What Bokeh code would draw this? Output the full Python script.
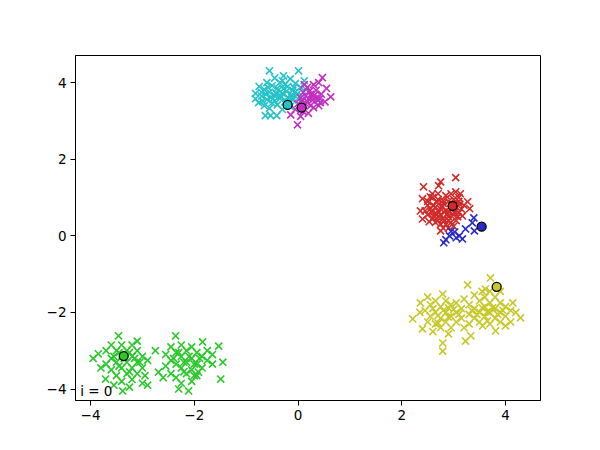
from bokeh.plotting import figure
from bokeh.models import FixedTicker, Label, Range1d
from bokeh.embed import file_html
from bokeh.resources import INLINE

# ---- data ----
cyan_x = [-0.55, 0.01, -0.28, -0.45, -0.15, 0.12, -0.6, -0.35, -0.05, -0.75, -0.5, -0.2, 0.05, -0.65, -0.4, -0.1,
          0.15, -0.82, -0.55, -0.3, -0.02, -0.7, -0.45, -0.2, 0.08, -0.82, -0.6, -0.35, -0.1, -0.76, -0.5, -0.25,
          -0.65, -0.4, -0.15, -0.63, -0.53, -0.41, -0.7, -0.38, -0.25, -0.58, -0.12, -0.48, -0.3, 0.0, -0.55, -0.3,
          -0.62, -0.42, -0.22, -0.05, -0.52, -0.32, -0.12, -0.68, -0.28, -0.08, -0.45, -0.18]
cyan_y = [4.31, 4.31, 4.18, 4.12, 4.10, 4.05, 4.00, 4.00, 3.98, 3.90, 3.92, 3.90, 3.88, 3.82, 3.85, 3.80,
          3.82, 3.72, 3.75, 3.72, 3.70, 3.65, 3.66, 3.62, 3.65, 3.58, 3.56, 3.58, 3.55, 3.48, 3.47, 3.50,
          3.40, 3.42, 3.38, 3.14, 3.14, 3.14, 3.75, 3.80, 3.95, 3.88, 3.68, 3.58, 4.05, 3.58, 3.33, 3.30,
          3.70, 3.72, 3.78, 3.76, 3.62, 3.64, 3.62, 3.52, 3.84, 3.88, 3.52, 3.48]

mag_x = [0.47, 0.40, 0.63, -0.01, 0.24, 0.30, 0.18, 0.35, 0.10, 0.25, 0.45, 0.05, 0.20, 0.38, 0.52, 0.00,
         0.15, 0.30, 0.43, -0.05, 0.10, 0.20, -0.14, 0.05, 0.35, 0.12, 0.28, 0.40, 0.15, 0.55,
         0.22, 0.32, 0.08, 0.18, 0.28, 0.42]
mag_y = [4.13, 4.00, 3.63, 2.90, 3.40, 3.95, 3.88, 3.80, 3.75, 3.70, 3.70, 3.60, 3.58, 3.55, 3.50, 3.45,
         3.45, 3.35, 3.48, 3.30, 3.25, 3.20, 3.16, 3.12, 3.60, 3.95, 3.55, 3.40, 3.65, 3.85,
         3.78, 3.68, 3.52, 3.50, 3.62, 3.58]

red_x = [3.04, 2.75, 2.71, 2.42, 2.59, 2.40, 2.36, 2.40, 2.53, 2.75, 3.27, 3.31, 3.17, 3.04, 3.13,
         2.50, 2.60, 2.70, 2.80, 2.90, 3.00, 3.10, 2.55, 2.65, 2.75, 2.85, 2.95, 3.05, 3.15, 2.50,
         2.60, 2.70, 2.80, 2.90, 3.00, 3.10, 2.65, 2.75, 2.85, 2.95, 3.05, 2.80, 2.90, 2.60, 2.85,
         2.95, 3.10, 2.70, 2.50, 3.20, 2.45, 2.75, 2.65, 3.00,
         2.58, 2.68, 2.78, 2.88, 2.98, 3.08, 2.62, 2.72, 2.82, 2.92, 3.02, 2.70, 2.80, 2.90, 2.55, 3.12]
red_y = [1.52, 1.41, 1.31, 1.28, 1.10, 0.97, 0.65, 0.44, 0.37, 0.13, 0.89, 0.71, 0.52, 1.15, 1.10,
         0.90, 0.80, 0.95, 0.85, 0.90, 0.95, 0.90, 0.70, 0.60, 0.70, 0.65, 0.70, 0.75, 0.70, 0.55,
         0.45, 0.50, 0.45, 0.50, 0.55, 0.60, 0.35, 0.30, 0.30, 0.35, 0.40, 0.20, 0.20, 1.00, 1.05,
         1.10, 1.00, 1.10, 0.80, 0.80, 0.65, 0.55, 0.75, 0.25,
         0.62, 0.88, 0.78, 0.58, 0.82, 0.50, 0.50, 0.62, 0.40, 0.62, 0.62, 0.40, 0.92, 0.40, 1.02, 0.82]

blue_x = [2.81, 3.02, 3.17, 3.36, 3.40, 3.23, 3.11, 2.92, 2.85, 3.05, 3.39, 2.95]
blue_y = [-0.18, 0.10, -0.08, 0.34, 0.13, 0.18, 0.00, 0.00, -0.10, -0.05, 0.47, 0.12]

yel_x = [3.71, 3.27, 3.61, 2.79, 2.36, 2.21, 2.40, 2.79, 2.79, 3.23, 3.33, 4.29, 4.14, 4.00, 3.81, 3.56,
         2.90, 4.20, 3.90, 2.50,
         2.45, 2.55, 2.55, 2.65, 2.65, 2.65, 2.75, 2.75, 2.75, 2.85, 2.85, 2.85, 2.95, 2.95, 2.95, 3.05,
         3.05, 3.05, 3.15, 3.15, 2.50, 2.60, 2.35, 3.20,
         3.30, 3.30, 3.30, 3.40, 3.40, 3.40, 3.50, 3.50, 3.50, 3.60, 3.60, 3.60, 3.70, 3.70, 3.70, 3.70,
         3.80, 3.80, 3.80, 3.90, 3.90, 3.90, 4.00, 4.00, 4.10, 3.55, 3.85, 4.10, 3.20,
         2.60, 2.70, 2.80, 2.90, 3.00, 3.10, 3.35, 3.45, 3.55, 3.65, 3.75, 3.85, 3.95, 2.70, 2.90, 3.65]
yel_y = [-1.10, -1.28, -1.39, -1.52, -1.75, -2.17, -2.43, -3.01, -2.80, -2.75, -2.61, -2.14, -1.75, -2.35, -2.48, -2.35,
         -2.56, -2.00, -1.45, -1.60,
         -1.95, -1.80, -2.10, -1.70, -2.00, -2.30, -1.85, -2.15, -2.40, -1.70, -2.00, -2.25, -1.80, -2.10, -2.40, -1.75,
         -2.00, -2.25, -1.90, -2.15, -2.25, -2.50, -2.00, -1.65,
         -1.80, -2.05, -2.30, -1.55, -1.90, -2.15, -1.70, -2.00, -2.25, -1.60, -1.85, -2.10, -1.45, -1.75, -2.00, -2.30,
         -1.60, -1.90, -2.15, -1.75, -2.00, -2.25, -1.85, -2.10, -1.95, -1.45, -1.35, -2.25, -2.40,
         -1.90, -2.08, -1.95, -2.12, -1.92, -2.05, -1.95, -2.05, -1.88, -1.98, -1.88, -2.05, -1.95, -2.28, -1.88, -2.22]

grn_x = [-3.46, -3.85, -3.71, -3.38, -2.36, -1.84, -1.53, -1.49, -1.92, -2.11, -2.69, -3.95, -2.90, -1.45, -3.10, -2.75,
         -3.70, -3.70, -3.60, -3.60, -3.60, -3.50, -3.50, -3.50, -3.40, -3.40, -3.40, -3.40, -3.30, -3.30, -3.30,
         -3.20, -3.20, -3.20, -3.20, -3.10, -3.10, -3.10, -3.00, -3.00, -3.00, -2.90, -3.80, -3.55, -3.25, -2.95,
         -2.55, -2.55, -2.45, -2.45, -2.45, -2.35, -2.35, -2.35, -2.25, -2.25, -2.25, -2.25, -2.15, -2.15, -2.15,
         -2.05, -2.05, -2.05, -2.05, -1.95, -1.95, -1.95, -1.85, -1.85, -1.75, -1.75, -1.65, -2.60, -2.30, -1.65,
         -3.55, -3.45, -3.35, -3.25, -3.15, -3.05, -3.45, -3.25, -2.40, -2.30, -2.20, -2.10, -2.00, -1.90, -2.20, -2.00]
grn_y = [-2.61, -3.08, -3.74, -4.05, -2.61, -2.77, -2.88, -3.74, -3.56, -4.05, -3.56, -3.20, -3.90, -3.30, -2.75, -3.00,
         -3.00, -3.35, -2.85, -3.20, -3.50, -3.00, -3.30, -3.65, -2.85, -3.15, -3.45, -3.80, -3.00, -3.30, -3.60,
         -2.85, -3.15, -3.45, -3.75, -3.00, -3.30, -3.60, -3.15, -3.45, -3.85, -3.25, -3.45, -3.90, -3.95, -3.65,
         -3.10, -3.40, -2.90, -3.25, -3.60, -3.05, -3.35, -3.70, -2.85, -3.15, -3.45, -3.85, -3.00, -3.30, -3.60,
         -2.90, -3.20, -3.50, -3.80, -3.05, -3.35, -3.65, -3.15, -3.45, -3.25, -3.00, -3.35, -3.70, -4.00, -3.10,
         -3.15, -3.05, -3.20, -3.05, -3.20, -3.30, -3.40, -3.55, -3.20, -3.05, -3.30, -3.15, -3.35, -3.20, -3.55, -3.65]

cent_x = [-3.36, 3.83, -0.20, 0.07, 2.98, 3.54]
cent_y = [-3.14, -1.33, 3.42, 3.35, 0.78, 0.24]

ticks = [-4, -2, 0, 2, 4]
tick_labels = {-4: "\u22124", -2: "\u22122", 0: "0", 2: "2", 4: "4"}

C_GRN = "#2ac82a"
C_YEL = "#c8c82a"
C_CYA = "#22c2c8"
C_MAG = "#c030c0"
C_RED = "#d02a2a"
C_BLU = "#2a2ac8"
cent_colors = [C_GRN, C_YEL, C_CYA, C_MAG, C_RED, C_BLU]

p = figure(width=592, height=442, output_backend="svg", toolbar_location=None,
           x_range=Range1d(-4.29, 4.675), y_range=Range1d(-4.30, 4.71),
           min_border_left=75, min_border_right=52, min_border_top=55, min_border_bottom=42)
p.background_fill_color = "white"
p.border_fill_color = "white"
p.outline_line_color = "black"
p.outline_line_width = 1
p.xgrid.visible = False
p.ygrid.visible = False

for ax in (p.xaxis[0], p.yaxis[0]):
    ax.ticker = FixedTicker(ticks=ticks)
    ax.major_label_overrides = tick_labels
    ax.major_label_text_font = "DejaVu Sans"
    ax.major_label_text_font_size = "13.5px"
    ax.major_label_text_color = "black"
    ax.major_tick_in = 0
    ax.major_tick_out = 5
    ax.minor_tick_in = 0
    ax.minor_tick_out = 0
    ax.axis_line_color = "black"
    ax.major_tick_line_color = "black"
    ax.major_label_standoff = 4

mk = dict(marker="x", size=10, line_width=1.6)
p.scatter(grn_x, grn_y, line_color=C_GRN, **mk)
p.scatter(yel_x, yel_y, line_color=C_YEL, **mk)
p.scatter(cyan_x, cyan_y, line_color=C_CYA, **mk)
p.scatter(mag_x, mag_y, line_color=C_MAG, **mk)
p.scatter(red_x, red_y, line_color=C_RED, **mk)
p.scatter(blue_x, blue_y, line_color=C_BLU, **mk)
p.scatter(cent_x, cent_y, marker="circle", size=9, fill_color=cent_colors,
          line_color="black", line_width=1.3)

p.add_layout(Label(x=-4.2, y=-4.27, text="i = 0", text_font="DejaVu Sans",
                   text_font_size="13.5px", text_baseline="bottom", text_align="left",
                   text_color="black"))

open("out.html", "w").write(file_html(p, INLINE))
